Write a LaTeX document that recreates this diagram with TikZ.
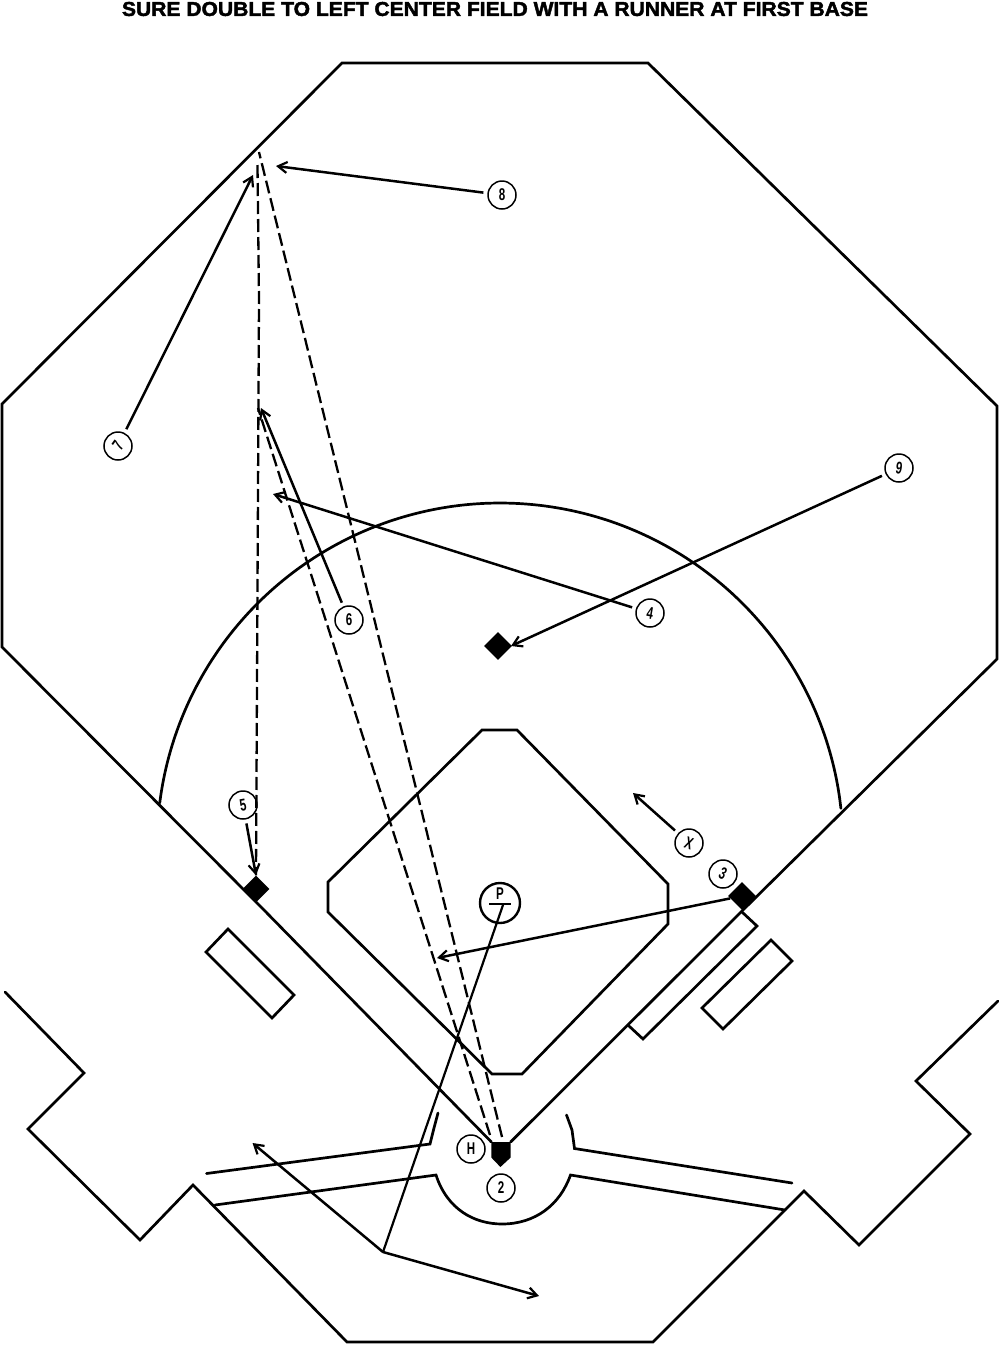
\documentclass[tikz,border=0pt]{standalone}
\usepackage{fontspec}
\setmainfont{Liberation Sans}
\newfontfamily\ttlf[BoldFeatures={FakeBold=2}]{Liberation Sans}
\usetikzlibrary{arrows.meta,shapes.geometric}
\tikzset{
  x=1pt,y=-1pt,
  fieldline/.style={line width=2.7pt,line join=miter,line cap=round},
  thinline/.style={line width=2.2pt,line cap=round},
  hitline/.style={line width=2.3pt,dash pattern=on 13pt off 5pt},
  callout/.style={line width=2.5pt,-{Straight Barb[length=9pt,width=11pt,line width=2.2pt]},shorten <=4pt},
  num/.style={circle,draw,line width=1.5pt,minimum size=28pt,inner sep=0pt,font=\fontsize{17}{17}\selectfont\bfseries},
  basem/.style={diamond,fill=black,minimum size=28pt,inner sep=0pt},
  ttl/.style={font=\fontsize{19}{20}\ttlf\bfseries,inner sep=0pt}
}
\newcommand{\nar}[1]{\scalebox{0.68}[1]{#1}}
\begin{document}
\begin{tikzpicture}
\useasboundingbox (0,0) rectangle (999,1345);
\node[ttl] (title) at (495,9) {\resizebox{746pt}{14pt}{SURE DOUBLE TO LEFT CENTER FIELD WITH A RUNNER AT FIRST BASE}};

% outfield fence and foul lines
\fill (491.4,1142) coordinate (homeL) -- (510.6,1142) coordinate (homeR) -- (510.6,1157.6) -- (500.4,1167) -- (491.4,1157.6) -- cycle;
\draw[fieldline] (homeL) -- (263,909) -- (2,647) -- (2,404) -- (342,63) -- (648,63) -- (997,406) -- (997,659) -- (742,911) -- (homeR);
% outfield arc
\draw[fieldline,domain=6.3:172.8,samples=90,smooth] plot ({500+343*cos(\x)},{846-343*sin(\x)});
% infield
\draw[fieldline] (482,730) -- (517,730) -- (668,884) -- (668,924) -- (522,1074) -- (492,1074) -- (328,912) -- (328,882) -- cycle;
% bases
\node[basem] (base2) at (498,646) {};
\node[basem,minimum size=27pt] (base3) at (256,889) {};
\node[basem] (base1) at (742,896) {};
% bullpens and dugouts
\draw[fieldline] (742,912) -- (757,926) -- (643,1039) -- (629,1026);
\draw[fieldline] (771,940) -- (792,961) -- (723,1029) -- (702,1008) -- cycle;
\draw[fieldline] (228,929) -- (294,995) -- (272,1018) -- (206,952) -- cycle;
% stands
\draw[fieldline] (5,992) -- (84,1073) -- (28,1129) -- (140,1240) -- (193,1185) -- (347,1342) -- (653,1342) -- (804,1191) -- (859,1245) -- (970,1134) -- (916,1081) -- (998,1001);
% backstop
\draw[fieldline] (206.5,1173.5) -- (430,1144) -- (434,1128) -- (438,1113);
\draw[fieldline] (215,1205) -- (436,1175) .. controls (447,1209) and (474,1224) .. (502,1224) .. controls (535,1224) and (560,1205) .. (570.5,1175) -- (785,1210);
\draw[fieldline] (566.5,1115) -- (572,1130) -- (574.5,1148.5) -- (792,1183);

% labels
\node[num] (c8) at (502,195) {\nar{8}};
\node[num] (c9) at (899,468) {\rotatebox{-8}{\nar{9}}};
\node[num] (c7) at (118,446) {\rotatebox{55}{\nar{7}}};
\node[num] (c4) at (650,613) {\rotatebox{-10}{\nar{4}}};
\node[num] (c6) at (349,620) {\nar{6}};
\node[num] (c5) at (243,805) {\rotatebox{10}{\nar{5}}};
\node[num] (cX) at (689,843) {\rotatebox{-20}{\nar{X}}};
\node[num] (c3) at (723,874) {\rotatebox{-25}{\nar{3}}};
\node[num] (cH) at (471,1149) {\nar{H}};
\node[num] (c2) at (501,1188) {\nar{2}};
\node[circle,draw,line width=2.4pt,minimum size=40pt,inner sep=0pt,font=\fontsize{17}{17}\selectfont\bfseries] (cP) at (500,903) {\raisebox{18pt}{\nar{P}}};
\coordinate (pL) at (489,904);
\coordinate (pR) at (511,904);
\coordinate (pFoot) at (503,905);
\draw[line width=2pt] (pL) -- (pR);

% hit lines
\coordinate (apex) at (259,152);
\coordinate (fence7) at (257.5,165);
\coordinate (h1) at (490,1135);
\coordinate (h2) at (502,1137);
\coordinate (relay) at (258,408);
\coordinate (bend) at (259,300);
\draw[hitline] (h2) -- (apex);
\draw[hitline] (h1) -- (relay);
\draw[hitline] (fence7) -- (bend) -- (base3.north);

% callouts
\coordinate (t8) at (276,166);
\coordinate (t7) at (253,175);
\coordinate (t9) at (511,646);
\coordinate (t4) at (273,494);
\coordinate (t6) at (261,408);
\coordinate (tX) at (633,793);
\coordinate (t3) at (437,958);
\coordinate (j) at (383,1252);
\coordinate (tA) at (252.5,1143);
\coordinate (tB) at (539,1296);
\draw[callout] (c8) -- (t8);
\draw[callout] (c7) -- (t7);
\draw[callout] (c9) -- (t9);
\draw[callout] (c4) -- (t4);
\draw[callout] (c6) -- (t6);
\draw[callout] (cX) -- (tX);
\draw[callout] (c5) -- (base3.north);
\draw[callout,shorten <=0pt] (base1) -- (t3);
\draw[thinline] (pFoot) -- (j);
\draw[callout,shorten <=0pt] (j) -- (tA);
\draw[callout,shorten <=0pt] (j) -- (tB);
\end{tikzpicture}
\end{document}
